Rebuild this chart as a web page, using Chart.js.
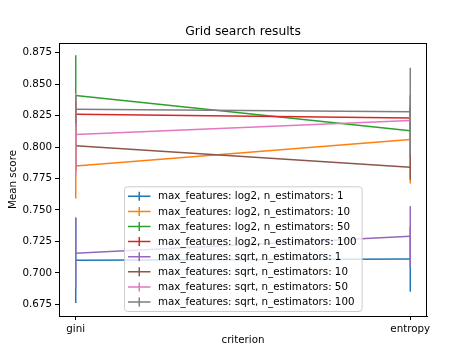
<!DOCTYPE html>
<html>
<head>
<meta charset="utf-8">
<script src="https://cdn.jsdelivr.net/npm/chart.js@4/dist/chart.umd.min.js"></script>
<style>
html,body{margin:0;padding:0;background:#fff;}
canvas{display:block;}
</style>
</head>
<body>
<canvas id="c" width="474" height="355"></canvas>
<script>
// ---- data ----
const criteria = ['gini', 'entropy'];
const seriesLabels = [
  'max_features: log2, n_estimators: 1',
  'max_features: log2, n_estimators: 10',
  'max_features: log2, n_estimators: 50',
  'max_features: log2, n_estimators: 100',
  'max_features: sqrt, n_estimators: 1',
  'max_features: sqrt, n_estimators: 10',
  'max_features: sqrt, n_estimators: 50',
  'max_features: sqrt, n_estimators: 100'
];
const seriesColors = ['#1f77b4','#ff7f0e','#2ca02c','#d62728','#9467bd','#8c564b','#e377c2','#7f7f7f'];
const meanLog2N1 = [0.710, 0.711];
const meanLog2N10 = [0.785, 0.806];
const meanLog2N50 = [0.841, 0.813];
const meanLog2N100 = [0.826, 0.823];
const meanSqrtN1 = [0.7155, 0.729];
const meanSqrtN10 = [0.801, 0.784];
const meanSqrtN50 = [0.810, 0.821];
const meanSqrtN100 = [0.830, 0.828];
const errLog2N1 = [0.034, 0.026];
const errLog2N10 = [0.026, 0.035];
const errLog2N50 = [0.032, 0.020];
const errLog2N100 = [0.010, 0.010];
const errSqrtN1 = [0.028, 0.024];
const errSqrtN10 = [0.020, 0.010];
const errSqrtN50 = [0.033, 0.020];
const errSqrtN100 = [0.011, 0.035];
const yTicks = [0.675, 0.700, 0.725, 0.750, 0.775, 0.800, 0.825, 0.850, 0.875];

const means = [meanLog2N1, meanLog2N10, meanLog2N50, meanLog2N100, meanSqrtN1, meanSqrtN10, meanSqrtN50, meanSqrtN100];
const errs = [errLog2N1, errLog2N10, errLog2N50, errLog2N100, errSqrtN1, errSqrtN10, errSqrtN50, errSqrtN100];

const FONT = 'DejaVu Sans';
Chart.defaults.font.family = FONT;
Chart.defaults.color = '#000';

const datasets = seriesLabels.map((lab, i) => ({
  label: lab,
  data: means[i].map((v, j) => ({x: j, y: v})),
  errors: errs[i],
  borderColor: seriesColors[i],
  backgroundColor: seriesColors[i],
  borderWidth: 1.5,
  pointRadius: 0,
  tension: 0,
  fill: false,
  order: seriesLabels.length - 1 - i
}));

const errorBarPlugin = {
  id: 'errorBars',
  afterDatasetDraw(chart, args) {
    const ds = chart.data.datasets[args.index];
    const xs = chart.scales.x, ys = chart.scales.y;
    const ctx = chart.ctx;
    const ca = chart.chartArea;
    ctx.save();
    ctx.beginPath();
    ctx.rect(ca.left, ca.top, ca.right - ca.left, ca.bottom - ca.top);
    ctx.clip();
    ctx.strokeStyle = ds.borderColor;
    ctx.lineWidth = 1.5;
    ds.data.forEach((p, j) => {
      const x = xs.getPixelForValue(p.x);
      const e = ds.errors[j];
      ctx.beginPath();
      ctx.moveTo(x, ys.getPixelForValue(p.y + e));
      ctx.lineTo(x, ys.getPixelForValue(p.y - e));
      ctx.stroke();
    });
    ctx.restore();
  }
};

const decorPlugin = {
  id: 'decor',
  afterDraw(chart) {
    const ctx = chart.ctx;
    const ca = chart.chartArea;
    ctx.save();
    // frame
    ctx.strokeStyle = '#000';
    ctx.lineWidth = 1;
    ctx.strokeRect(Math.round(ca.left) + 0.5, Math.round(ca.top) + 0.5,
      Math.round(ca.right - ca.left) - 1, Math.round(ca.bottom - ca.top));
    // titles
    ctx.fillStyle = '#000';
    ctx.textAlign = 'center';
    ctx.textBaseline = 'middle';
    ctx.font = '12.3px "' + FONT + '"';
    ctx.fillText('Grid search results', (ca.left + ca.right) / 2, 32);
    ctx.font = '10.3px "' + FONT + '"';
    ctx.fillText('criterion', (ca.left + ca.right) / 2, 340);
    ctx.save();
    ctx.translate(13, (ca.top + ca.bottom) / 2);
    ctx.rotate(-Math.PI / 2);
    ctx.fillText('Mean score', 0, 0);
    ctx.restore();

    // legend (lower center)
    const fs = 10.3;
    ctx.font = fs + 'px "' + FONT + '"';
    let tw = 0;
    chart.data.datasets.forEach(d => { tw = Math.max(tw, ctx.measureText(d.label).width); });
    const pad = 4, handleLen = 22.5, gap = 7.5, rowH = 15.1;
    const n = chart.data.datasets.length;
    const w = pad + handleLen + gap + tw + pad + 1;
    const h = pad * 2 + rowH * (n - 1) + 11;
    const left = Math.round((ca.left + ca.right) / 2 - w / 2) + 0.5;
    const bottom = Math.round(ca.bottom) - 5 + 0.5;
    const top = bottom - h;
    const r = 3;
    ctx.beginPath();
    ctx.moveTo(left + r, top);
    ctx.lineTo(left + w - r, top);
    ctx.arcTo(left + w, top, left + w, top + r, r);
    ctx.lineTo(left + w, bottom - r);
    ctx.arcTo(left + w, bottom, left + w - r, bottom, r);
    ctx.lineTo(left + r, bottom);
    ctx.arcTo(left, bottom, left, bottom - r, r);
    ctx.lineTo(left, top + r);
    ctx.arcTo(left, top, left + r, top, r);
    ctx.closePath();
    ctx.fillStyle = 'rgba(255,255,255,0.8)';
    ctx.fill();
    ctx.strokeStyle = '#cccccc';
    ctx.lineWidth = 1;
    ctx.stroke();
    chart.data.datasets.forEach((d, i) => {
      const cy = top + pad + 5.5 + i * rowH;
      const hx0 = left + pad - 0.5;
      const hx1 = hx0 + handleLen;
      ctx.strokeStyle = d.borderColor;
      ctx.lineWidth = 1.5;
      ctx.beginPath();
      ctx.moveTo(hx0, cy);
      ctx.lineTo(hx1, cy);
      const mx = (hx0 + hx1) / 2;
      ctx.moveTo(mx, cy - 4.5);
      ctx.lineTo(mx, cy + 4.5);
      ctx.stroke();
      ctx.fillStyle = '#000';
      ctx.textAlign = 'left';
      ctx.textBaseline = 'middle';
      ctx.fillText(d.label, hx1 + gap, cy + 0.5);
    });
    ctx.restore();
  }
};

new Chart(document.getElementById('c'), {
  type: 'line',
  data: { datasets },
  options: {
    responsive: false,
    animation: false,
    devicePixelRatio: 1,
    layout: { padding: { top: 43, right: 47, left: 0, bottom: 0 } },
    plugins: { legend: { display: false }, tooltip: { enabled: false }, title: { display: false } },
    scales: {
      x: {
        type: 'linear',
        min: -0.05,
        max: 1.05,
        afterBuildTicks: s => { s.ticks = criteria.map((c, i) => ({ value: i })); },
        afterFit: s => { s.height = 39; },
        ticks: {
          autoSkip: false, maxRotation: 0, padding: 3,
          font: { size: 10.3, family: FONT }, color: '#000',
          callback: v => criteria[v]
        },
        grid: { display: true, drawOnChartArea: false, drawTicks: true, tickLength: 4, color: '#000', lineWidth: 1 },
        border: { display: true, color: '#000', width: 1 }
      },
      y: {
        type: 'linear',
        min: 0.6657,
        max: 0.8827,
        afterBuildTicks: s => { s.ticks = yTicks.map(v => ({ value: v })); },
        afterFit: s => { s.width = 59; },
        ticks: {
          autoSkip: false, padding: 3,
          font: { size: 10.3, family: FONT }, color: '#000',
          callback: v => Number(v).toFixed(3)
        },
        grid: { display: true, drawOnChartArea: false, drawTicks: true, tickLength: 4, color: '#000', lineWidth: 1 },
        border: { display: true, color: '#000', width: 1 }
      }
    }
  },
  plugins: [errorBarPlugin, decorPlugin]
});
</script>
</body>
</html>
